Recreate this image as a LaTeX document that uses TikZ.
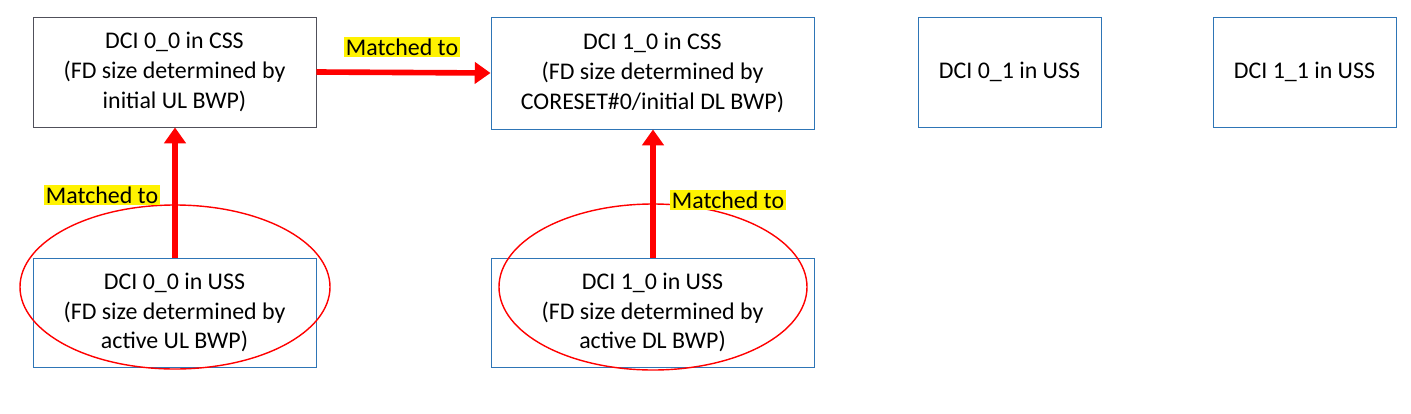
\documentclass[tikz,border=0pt]{standalone}
\usepackage{fontspec}
\setmainfont{Carlito}
\usetikzlibrary{arrows.meta}
\definecolor{bblue}{RGB}{46,117,182}
\definecolor{bgray}{RGB}{80,80,90}
\begin{document}
\begin{tikzpicture}[x=0.02cm,y=-0.02cm,
  box/.style={draw=#1,line width=0.5pt,inner sep=0pt,align=center,font=\fontsize{13.6}{17}\selectfont},
  lbl/.style={fill=yellow,inner sep=1pt,font=\fontsize{13.6}{16}\selectfont},
  conn/.style={red,line width=3.2pt,-{Triangle[length=9pt,width=12pt]}},
  ring/.style={draw=red,line width=0.8pt}]
\useasboundingbox (0,0) rectangle (1411,413);
\node[box=bgray,minimum width=283*0.02cm,minimum height=110*0.02cm] (A) at (174.5,72) {DCI 0\_0 in CSS\\(FD size determined by\\initial UL BWP)};
\node[box=bblue,minimum width=323*0.02cm,minimum height=112*0.02cm] (B) at (652.5,73) {DCI 1\_0 in CSS\\(FD size determined by\\CORESET\#0/initial DL BWP)};
\node[box=bblue,minimum width=183*0.02cm,minimum height=110*0.02cm] (C) at (1009.5,72) {DCI 0\_1 in USS};
\node[box=bblue,minimum width=183*0.02cm,minimum height=110*0.02cm] (D) at (1304.5,72) {DCI 1\_1 in USS};
\node[box=bblue,minimum width=283*0.02cm,minimum height=109*0.02cm] (E) at (174.5,312.5) {DCI 0\_0 in USS\\(FD size determined by\\active UL BWP)};
\node[box=bblue,minimum width=323*0.02cm,minimum height=109*0.02cm] (F) at (652.5,312.5) {DCI 1\_0 in USS\\(FD size determined by\\active DL BWP)};
\draw[ring] (175,287) ellipse [x radius=155, y radius=82];
\draw[ring] (653,287) ellipse [x radius=154, y radius=83];
\draw[conn] (A.east) -- (B.west);
\draw[conn] (E.north -| 175,0) -- (A.south -| 175,0);
\draw[conn] (F.north -| 653,0) -- (B.south -| 653,0);
\node[lbl] (L1) at (402,47) {Matched to};
\node[lbl] (L2) at (102,195) {Matched to};
\node[lbl] (L3) at (728,200) {Matched to};
\end{tikzpicture}
\end{document}
